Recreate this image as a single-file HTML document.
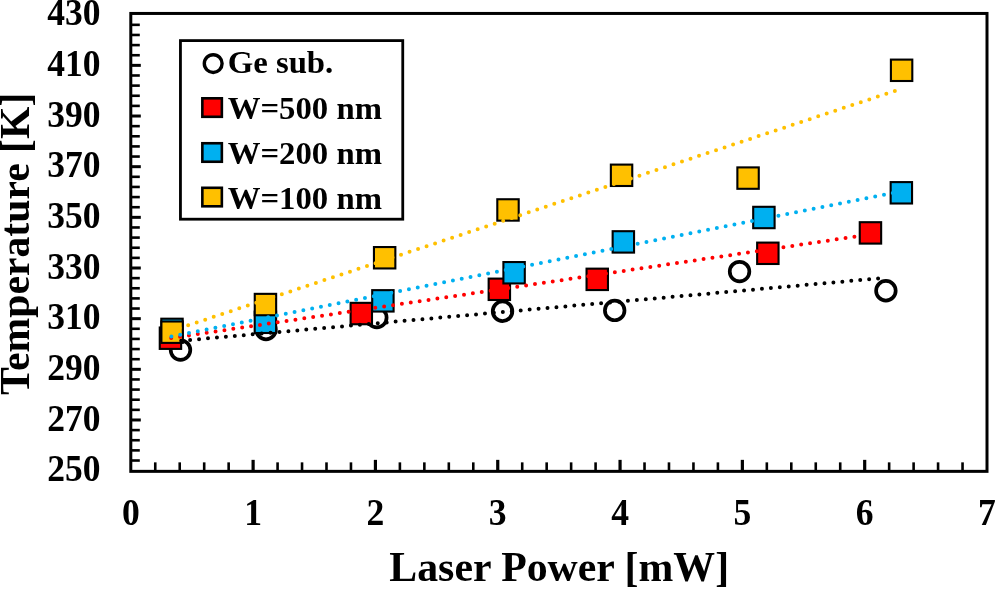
<!DOCTYPE html><html><head><meta charset="utf-8"><style>html,body{margin:0;padding:0;background:#fff;}svg{display:block;will-change:transform;filter:blur(0.35px);}text{font-family:"Liberation Serif",serif;font-weight:bold;fill:#000;}</style></head><body>
<svg width="997" height="591" viewBox="0 0 997 591">
<line x1="130.80" y1="460.51" x2="139.80" y2="460.51" stroke="#000" stroke-width="2.6"/>
<line x1="130.80" y1="450.38" x2="139.80" y2="450.38" stroke="#000" stroke-width="2.6"/>
<line x1="130.80" y1="440.24" x2="139.80" y2="440.24" stroke="#000" stroke-width="2.6"/>
<line x1="130.80" y1="430.11" x2="139.80" y2="430.11" stroke="#000" stroke-width="2.6"/>
<line x1="130.80" y1="419.98" x2="140.80" y2="419.98" stroke="#000" stroke-width="3.0"/>
<line x1="130.80" y1="409.85" x2="139.80" y2="409.85" stroke="#000" stroke-width="2.6"/>
<line x1="130.80" y1="399.72" x2="139.80" y2="399.72" stroke="#000" stroke-width="2.6"/>
<line x1="130.80" y1="389.58" x2="139.80" y2="389.58" stroke="#000" stroke-width="2.6"/>
<line x1="130.80" y1="379.45" x2="139.80" y2="379.45" stroke="#000" stroke-width="2.6"/>
<line x1="130.80" y1="369.32" x2="140.80" y2="369.32" stroke="#000" stroke-width="3.0"/>
<line x1="130.80" y1="359.19" x2="139.80" y2="359.19" stroke="#000" stroke-width="2.6"/>
<line x1="130.80" y1="349.06" x2="139.80" y2="349.06" stroke="#000" stroke-width="2.6"/>
<line x1="130.80" y1="338.92" x2="139.80" y2="338.92" stroke="#000" stroke-width="2.6"/>
<line x1="130.80" y1="328.79" x2="139.80" y2="328.79" stroke="#000" stroke-width="2.6"/>
<line x1="130.80" y1="318.66" x2="140.80" y2="318.66" stroke="#000" stroke-width="3.0"/>
<line x1="130.80" y1="308.53" x2="139.80" y2="308.53" stroke="#000" stroke-width="2.6"/>
<line x1="130.80" y1="298.40" x2="139.80" y2="298.40" stroke="#000" stroke-width="2.6"/>
<line x1="130.80" y1="288.26" x2="139.80" y2="288.26" stroke="#000" stroke-width="2.6"/>
<line x1="130.80" y1="278.13" x2="139.80" y2="278.13" stroke="#000" stroke-width="2.6"/>
<line x1="130.80" y1="268.00" x2="140.80" y2="268.00" stroke="#000" stroke-width="3.0"/>
<line x1="130.80" y1="257.87" x2="139.80" y2="257.87" stroke="#000" stroke-width="2.6"/>
<line x1="130.80" y1="247.74" x2="139.80" y2="247.74" stroke="#000" stroke-width="2.6"/>
<line x1="130.80" y1="237.60" x2="139.80" y2="237.60" stroke="#000" stroke-width="2.6"/>
<line x1="130.80" y1="227.47" x2="139.80" y2="227.47" stroke="#000" stroke-width="2.6"/>
<line x1="130.80" y1="217.34" x2="140.80" y2="217.34" stroke="#000" stroke-width="3.0"/>
<line x1="130.80" y1="207.21" x2="139.80" y2="207.21" stroke="#000" stroke-width="2.6"/>
<line x1="130.80" y1="197.08" x2="139.80" y2="197.08" stroke="#000" stroke-width="2.6"/>
<line x1="130.80" y1="186.94" x2="139.80" y2="186.94" stroke="#000" stroke-width="2.6"/>
<line x1="130.80" y1="176.81" x2="139.80" y2="176.81" stroke="#000" stroke-width="2.6"/>
<line x1="130.80" y1="166.68" x2="140.80" y2="166.68" stroke="#000" stroke-width="3.0"/>
<line x1="130.80" y1="156.55" x2="139.80" y2="156.55" stroke="#000" stroke-width="2.6"/>
<line x1="130.80" y1="146.42" x2="139.80" y2="146.42" stroke="#000" stroke-width="2.6"/>
<line x1="130.80" y1="136.28" x2="139.80" y2="136.28" stroke="#000" stroke-width="2.6"/>
<line x1="130.80" y1="126.15" x2="139.80" y2="126.15" stroke="#000" stroke-width="2.6"/>
<line x1="130.80" y1="116.02" x2="140.80" y2="116.02" stroke="#000" stroke-width="3.0"/>
<line x1="130.80" y1="105.89" x2="139.80" y2="105.89" stroke="#000" stroke-width="2.6"/>
<line x1="130.80" y1="95.76" x2="139.80" y2="95.76" stroke="#000" stroke-width="2.6"/>
<line x1="130.80" y1="85.62" x2="139.80" y2="85.62" stroke="#000" stroke-width="2.6"/>
<line x1="130.80" y1="75.49" x2="139.80" y2="75.49" stroke="#000" stroke-width="2.6"/>
<line x1="130.80" y1="65.36" x2="140.80" y2="65.36" stroke="#000" stroke-width="3.0"/>
<line x1="130.80" y1="55.23" x2="139.80" y2="55.23" stroke="#000" stroke-width="2.6"/>
<line x1="130.80" y1="45.10" x2="139.80" y2="45.10" stroke="#000" stroke-width="2.6"/>
<line x1="130.80" y1="34.96" x2="139.80" y2="34.96" stroke="#000" stroke-width="2.6"/>
<line x1="130.80" y1="24.83" x2="139.80" y2="24.83" stroke="#000" stroke-width="2.6"/>
<line x1="155.26" y1="471.35" x2="155.26" y2="462.35" stroke="#000" stroke-width="2.6"/>
<line x1="179.73" y1="471.35" x2="179.73" y2="462.35" stroke="#000" stroke-width="2.6"/>
<line x1="204.19" y1="471.35" x2="204.19" y2="462.35" stroke="#000" stroke-width="2.6"/>
<line x1="228.65" y1="471.35" x2="228.65" y2="462.35" stroke="#000" stroke-width="2.6"/>
<line x1="253.11" y1="471.35" x2="253.11" y2="459.85" stroke="#000" stroke-width="3.2"/>
<line x1="277.58" y1="471.35" x2="277.58" y2="462.35" stroke="#000" stroke-width="2.6"/>
<line x1="302.04" y1="471.35" x2="302.04" y2="462.35" stroke="#000" stroke-width="2.6"/>
<line x1="326.50" y1="471.35" x2="326.50" y2="462.35" stroke="#000" stroke-width="2.6"/>
<line x1="350.97" y1="471.35" x2="350.97" y2="462.35" stroke="#000" stroke-width="2.6"/>
<line x1="375.43" y1="471.35" x2="375.43" y2="459.85" stroke="#000" stroke-width="3.2"/>
<line x1="399.89" y1="471.35" x2="399.89" y2="462.35" stroke="#000" stroke-width="2.6"/>
<line x1="424.35" y1="471.35" x2="424.35" y2="462.35" stroke="#000" stroke-width="2.6"/>
<line x1="448.82" y1="471.35" x2="448.82" y2="462.35" stroke="#000" stroke-width="2.6"/>
<line x1="473.28" y1="471.35" x2="473.28" y2="462.35" stroke="#000" stroke-width="2.6"/>
<line x1="497.74" y1="471.35" x2="497.74" y2="459.85" stroke="#000" stroke-width="3.2"/>
<line x1="522.21" y1="471.35" x2="522.21" y2="462.35" stroke="#000" stroke-width="2.6"/>
<line x1="546.67" y1="471.35" x2="546.67" y2="462.35" stroke="#000" stroke-width="2.6"/>
<line x1="571.13" y1="471.35" x2="571.13" y2="462.35" stroke="#000" stroke-width="2.6"/>
<line x1="595.59" y1="471.35" x2="595.59" y2="462.35" stroke="#000" stroke-width="2.6"/>
<line x1="620.06" y1="471.35" x2="620.06" y2="459.85" stroke="#000" stroke-width="3.2"/>
<line x1="644.52" y1="471.35" x2="644.52" y2="462.35" stroke="#000" stroke-width="2.6"/>
<line x1="668.98" y1="471.35" x2="668.98" y2="462.35" stroke="#000" stroke-width="2.6"/>
<line x1="693.45" y1="471.35" x2="693.45" y2="462.35" stroke="#000" stroke-width="2.6"/>
<line x1="717.91" y1="471.35" x2="717.91" y2="462.35" stroke="#000" stroke-width="2.6"/>
<line x1="742.37" y1="471.35" x2="742.37" y2="459.85" stroke="#000" stroke-width="3.2"/>
<line x1="766.83" y1="471.35" x2="766.83" y2="462.35" stroke="#000" stroke-width="2.6"/>
<line x1="791.30" y1="471.35" x2="791.30" y2="462.35" stroke="#000" stroke-width="2.6"/>
<line x1="815.76" y1="471.35" x2="815.76" y2="462.35" stroke="#000" stroke-width="2.6"/>
<line x1="840.22" y1="471.35" x2="840.22" y2="462.35" stroke="#000" stroke-width="2.6"/>
<line x1="864.69" y1="471.35" x2="864.69" y2="459.85" stroke="#000" stroke-width="3.2"/>
<line x1="889.15" y1="471.35" x2="889.15" y2="462.35" stroke="#000" stroke-width="2.6"/>
<line x1="913.61" y1="471.35" x2="913.61" y2="462.35" stroke="#000" stroke-width="2.6"/>
<line x1="938.07" y1="471.35" x2="938.07" y2="462.35" stroke="#000" stroke-width="2.6"/>
<line x1="962.54" y1="471.35" x2="962.54" y2="462.35" stroke="#000" stroke-width="2.6"/>
<rect x="130.8" y="13.45" width="856.2" height="457.90000000000003" fill="none" stroke="#000" stroke-width="3.0"/>
<text transform="translate(100.6,481.24) scale(0.955,1)" font-size="37.2" text-anchor="end">250</text>
<text transform="translate(100.6,430.58) scale(0.955,1)" font-size="37.2" text-anchor="end">270</text>
<text transform="translate(100.6,379.92) scale(0.955,1)" font-size="37.2" text-anchor="end">290</text>
<text transform="translate(100.6,329.26) scale(0.955,1)" font-size="37.2" text-anchor="end">310</text>
<text transform="translate(100.6,278.60) scale(0.955,1)" font-size="37.2" text-anchor="end">330</text>
<text transform="translate(100.6,227.94) scale(0.955,1)" font-size="37.2" text-anchor="end">350</text>
<text transform="translate(100.6,177.28) scale(0.955,1)" font-size="37.2" text-anchor="end">370</text>
<text transform="translate(100.6,126.62) scale(0.955,1)" font-size="37.2" text-anchor="end">390</text>
<text transform="translate(100.6,75.96) scale(0.955,1)" font-size="37.2" text-anchor="end">410</text>
<text transform="translate(100.6,25.30) scale(0.955,1)" font-size="37.2" text-anchor="end">430</text>
<text transform="translate(130.80,524.9) scale(0.95,1)" font-size="37.5" text-anchor="middle">0</text>
<text transform="translate(253.11,524.9) scale(0.95,1)" font-size="37.5" text-anchor="middle">1</text>
<text transform="translate(375.43,524.9) scale(0.95,1)" font-size="37.5" text-anchor="middle">2</text>
<text transform="translate(497.74,524.9) scale(0.95,1)" font-size="37.5" text-anchor="middle">3</text>
<text transform="translate(620.06,524.9) scale(0.95,1)" font-size="37.5" text-anchor="middle">4</text>
<text transform="translate(742.37,524.9) scale(0.95,1)" font-size="37.5" text-anchor="middle">5</text>
<text transform="translate(864.69,524.9) scale(0.95,1)" font-size="37.5" text-anchor="middle">6</text>
<text transform="translate(987.00,524.9) scale(0.95,1)" font-size="37.5" text-anchor="middle">7</text>
<text x="559.2" y="581.0" font-size="41.8" text-anchor="middle">Laser Power [mW]</text>
<text transform="translate(29.0,243.8) rotate(-90)" font-size="41.7" text-anchor="middle">Temperature [K]</text>
<circle cx="180.50" cy="350.10" r="9.8" fill="#fff" stroke="#000" stroke-width="3.7"/>
<circle cx="266.00" cy="329.50" r="9.8" fill="#fff" stroke="#000" stroke-width="3.7"/>
<circle cx="376.80" cy="317.60" r="9.8" fill="#fff" stroke="#000" stroke-width="3.7"/>
<circle cx="502.55" cy="311.25" r="9.8" fill="#fff" stroke="#000" stroke-width="3.7"/>
<circle cx="614.70" cy="310.45" r="9.8" fill="#fff" stroke="#000" stroke-width="3.7"/>
<circle cx="739.55" cy="271.60" r="9.8" fill="#fff" stroke="#000" stroke-width="3.7"/>
<circle cx="885.90" cy="290.75" r="9.8" fill="#fff" stroke="#000" stroke-width="3.7"/>
<rect x="159.75" y="327.50" width="21.40" height="21.40" fill="#FF0000" stroke="#000" stroke-width="2.1"/>
<rect x="350.60" y="302.85" width="21.40" height="21.40" fill="#FF0000" stroke="#000" stroke-width="2.1"/>
<rect x="488.65" y="278.60" width="21.40" height="21.40" fill="#FF0000" stroke="#000" stroke-width="2.1"/>
<rect x="586.55" y="268.65" width="21.40" height="21.40" fill="#FF0000" stroke="#000" stroke-width="2.1"/>
<rect x="757.15" y="242.60" width="21.40" height="21.40" fill="#FF0000" stroke="#000" stroke-width="2.1"/>
<rect x="859.75" y="222.20" width="21.40" height="21.40" fill="#FF0000" stroke="#000" stroke-width="2.1"/>
<rect x="161.30" y="318.70" width="21.40" height="21.40" fill="#00B0F0" stroke="#000" stroke-width="2.1"/>
<rect x="254.70" y="311.60" width="21.40" height="21.40" fill="#00B0F0" stroke="#000" stroke-width="2.1"/>
<rect x="372.20" y="290.15" width="21.40" height="21.40" fill="#00B0F0" stroke="#000" stroke-width="2.1"/>
<rect x="503.40" y="262.05" width="21.40" height="21.40" fill="#00B0F0" stroke="#000" stroke-width="2.1"/>
<rect x="612.65" y="231.20" width="21.40" height="21.40" fill="#00B0F0" stroke="#000" stroke-width="2.1"/>
<rect x="753.20" y="206.80" width="21.40" height="21.40" fill="#00B0F0" stroke="#000" stroke-width="2.1"/>
<rect x="890.65" y="182.10" width="21.40" height="21.40" fill="#00B0F0" stroke="#000" stroke-width="2.1"/>
<rect x="161.40" y="321.50" width="21.40" height="21.40" fill="#FFC000" stroke="#000" stroke-width="2.1"/>
<rect x="254.75" y="293.85" width="21.40" height="21.40" fill="#FFC000" stroke="#000" stroke-width="2.1"/>
<rect x="373.95" y="247.05" width="21.40" height="21.40" fill="#FFC000" stroke="#000" stroke-width="2.1"/>
<rect x="497.30" y="199.25" width="21.40" height="21.40" fill="#FFC000" stroke="#000" stroke-width="2.1"/>
<rect x="610.86" y="164.60" width="21.40" height="21.40" fill="#FFC000" stroke="#000" stroke-width="2.1"/>
<rect x="737.37" y="167.40" width="21.40" height="21.40" fill="#FFC000" stroke="#000" stroke-width="2.1"/>
<rect x="890.90" y="59.60" width="21.40" height="21.40" fill="#FFC000" stroke="#000" stroke-width="2.1"/>
<line x1="181.20" y1="340.76" x2="886.50" y2="277.72" stroke="#000000" stroke-width="4.0" stroke-linecap="round" stroke-dasharray="0 8.97"/>
<line x1="171.20" y1="338.07" x2="870.50" y2="234.33" stroke="#FF0000" stroke-width="4.0" stroke-linecap="round" stroke-dasharray="0 8.97"/>
<line x1="171.40" y1="336.53" x2="901.50" y2="191.24" stroke="#00B0F0" stroke-width="4.0" stroke-linecap="round" stroke-dasharray="0 8.97"/>
<line x1="171.15" y1="330.92" x2="901.50" y2="88.72" stroke="#FFC000" stroke-width="4.0" stroke-linecap="round" stroke-dasharray="0 8.97"/>
<rect x="180.45" y="40.6" width="222.3" height="178.6" fill="#fff" stroke="#000" stroke-width="2.8"/>
<circle cx="213.20" cy="63.60" r="8.9" fill="#fff" stroke="#000" stroke-width="3.4"/>
<rect x="202.35" y="98.30" width="19.50" height="18.50" fill="#FF0000" stroke="#000" stroke-width="2.6"/>
<rect x="202.35" y="143.25" width="19.50" height="18.50" fill="#00B0F0" stroke="#000" stroke-width="2.6"/>
<rect x="202.35" y="187.80" width="19.50" height="18.50" fill="#FFC000" stroke="#000" stroke-width="2.6"/>
<text transform="translate(227.7,72.5) scale(1.04,1)" font-size="31.5">Ge sub.</text>
<text transform="translate(227.7,118.5) scale(1.04,1)" font-size="31.5">W=500 nm</text>
<text transform="translate(227.7,163.6) scale(1.04,1)" font-size="31.5">W=200 nm</text>
<text transform="translate(227.7,208.5) scale(1.04,1)" font-size="31.5">W=100 nm</text>
</svg></body></html>
